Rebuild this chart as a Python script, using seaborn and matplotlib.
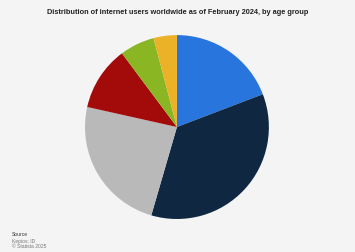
import matplotlib
matplotlib.use("Agg")
import matplotlib.pyplot as plt
import seaborn as sns

categories = ["18-24 years", "25-34 years", "35-44 years", "45-54 years", "55-64 years", "65+ years"]
shares = [19.2, 35.3, 24.0, 11.3, 6.1, 4.1]
colors = ["#2876dd", "#0f2741", "#b9b9b9", "#a30b0b", "#8ab624", "#ebb228"]
title = "Distribution of internet users worldwide as of February 2024, by age group"

sns.set_theme(style="white")
plt.rcParams['font.family'] = ['Liberation Sans', 'DejaVu Sans']
bg = "#f4f4f4"
fig = plt.figure(figsize=(3.55, 2.53), dpi=100, facecolor=bg)
ax = fig.add_axes([0.2394, 0.1304, 0.518, 0.727])
ax.set_facecolor(bg)
pal = sns.color_palette(colors)
ax.pie(shares, colors=pal, startangle=90, counterclock=False, radius=1.0,
       wedgeprops=dict(linewidth=0))
ax.set_xlim(-1, 1)
ax.set_ylim(-1, 1)
ax.set_aspect("equal")
ax.axis("off")

fig.text(0.5, 1 - 13 / 253, title, ha="center", va="center", fontsize=5.35,
         fontweight="bold", color="#222222")
fig.text(12 / 355, 1 - 235 / 253, "Source", fontsize=3.6, color="#333333", va="center")
fig.text(12 / 355, 1 - 241 / 253, "Kepios; ID", fontsize=3.6, color="#777777", va="center")
fig.text(12 / 355, 1 - 247 / 253, "© Statista 2025", fontsize=3.6, color="#777777", va="center")

fig.savefig("out.png", dpi=100, facecolor=bg)
